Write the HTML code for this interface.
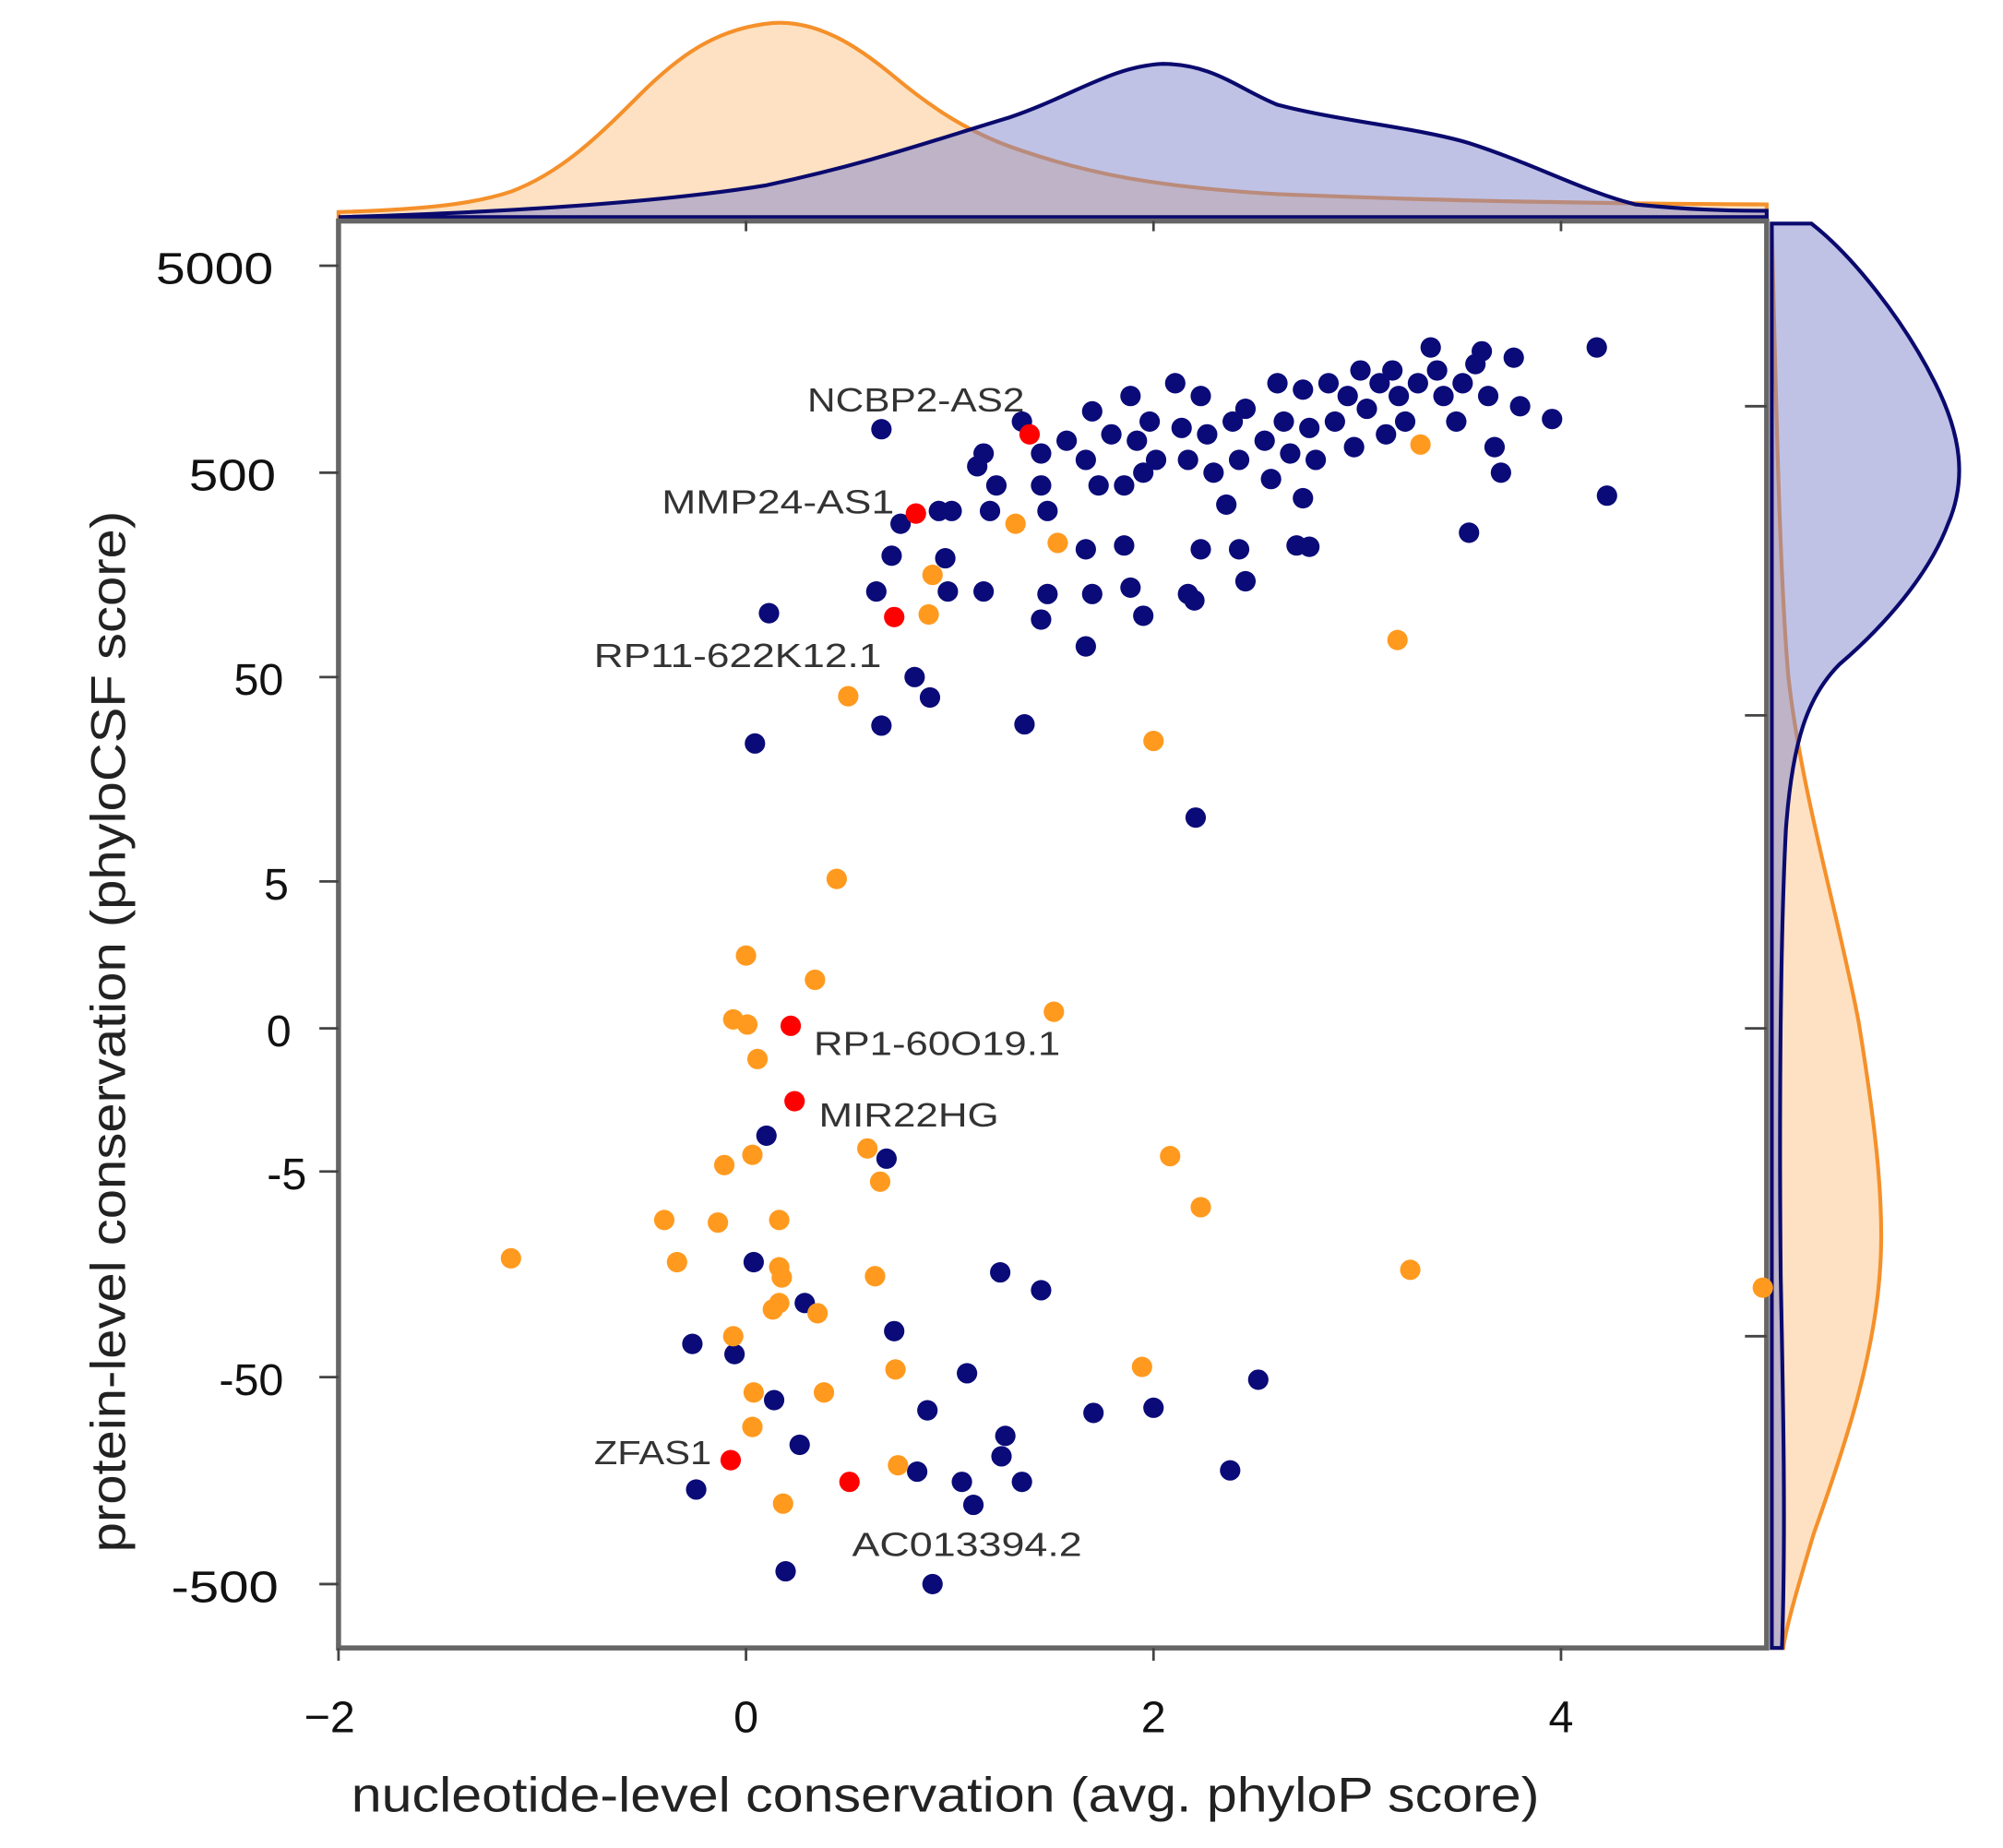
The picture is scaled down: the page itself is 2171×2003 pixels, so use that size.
<!DOCTYPE html>
<html><head><meta charset="utf-8"><style>
html,body{margin:0;padding:0;background:#fff;}
svg{display:block;}
text{font-family:"Liberation Sans",sans-serif;}
.tk{font-size:35px;fill:#111;}
.lb{font-size:26px;fill:#333;}
</style></head><body>
<svg width="2171" height="2003" viewBox="0 0 1568 1446.6" preserveAspectRatio="none" xmlns="http://www.w3.org/2000/svg">
<rect width="1568" height="1447" fill="#fff"/>
<!-- top marginal -->
<path d="M265,166 C330,164 370,160 400,150 C440,135 470,105 500,75 C530,45 560,22 605,18 C640,16 670,35 700,60 C730,85 760,105 800,118 C850,135 900,146 1000,152 C1100,156 1200,159 1383,160 L1383,170 L265,170Z" fill="#fcc890" fill-opacity="0.55" stroke="#f5902a" stroke-width="3"/>
<path d="M265,170 C400,166 520,158 600,145 C680,128 730,110 790,92 C840,75 870,52 910,50 C950,50 970,70 1000,82 C1050,95 1110,100 1150,112 C1200,128 1240,150 1280,160 C1320,164 1350,165 1383,165 L1383,170Z" fill="#7f86cc" fill-opacity="0.5" stroke="#0a0a6e" stroke-width="3"/>
<!-- right marginal -->
<path d="M1387,175 C1390,300 1393,450 1400,530 C1410,620 1440,720 1455,800 C1468,880 1475,940 1472,990 C1468,1060 1445,1130 1420,1200 C1405,1250 1398,1275 1396,1290 L1387,1290Z" fill="#fcc890" fill-opacity="0.55" stroke="#f5902a" stroke-width="3"/>
<path d="M1387,175 L1418,175 C1450,200 1490,250 1515,300 C1535,340 1540,375 1525,410 C1510,450 1475,490 1440,520 C1415,545 1403,580 1398,650 C1393,750 1393,900 1394,1000 C1396,1100 1398,1200 1395,1290 L1387,1290Z" fill="#7f86cc" fill-opacity="0.5" stroke="#0a0a6e" stroke-width="3"/>
<!-- axes box -->
<rect x="265" y="173" width="1118" height="1117" fill="#fff" stroke="#666" stroke-width="4"/>
<g stroke="#444" stroke-width="2">
<line x1="584" y1="173" x2="584" y2="181"/><line x1="903" y1="173" x2="903" y2="181"/><line x1="1222" y1="173" x2="1222" y2="181"/>
<line x1="265" y1="1290" x2="265" y2="1300"/><line x1="584" y1="1290" x2="584" y2="1300"/><line x1="903" y1="1290" x2="903" y2="1300"/><line x1="1222" y1="1290" x2="1222" y2="1300"/>
<line x1="250" y1="208" x2="265" y2="208"/><line x1="250" y1="370" x2="265" y2="370"/><line x1="250" y1="530" x2="265" y2="530"/><line x1="250" y1="690" x2="265" y2="690"/><line x1="250" y1="805" x2="265" y2="805"/><line x1="250" y1="917" x2="265" y2="917"/><line x1="250" y1="1078" x2="265" y2="1078"/><line x1="250" y1="1240" x2="265" y2="1240"/>
<line x1="1366" y1="318" x2="1383" y2="318"/><line x1="1366" y1="560" x2="1383" y2="560"/><line x1="1366" y1="805" x2="1383" y2="805"/><line x1="1366" y1="1046" x2="1383" y2="1046"/>
</g>
<g class="tk" text-anchor="end">
<text x="214" y="222" textLength="92" lengthAdjust="spacingAndGlyphs">5000</text><text x="216" y="384" textLength="68" lengthAdjust="spacingAndGlyphs">500</text><text x="222" y="544">50</text><text x="226" y="704">5</text><text x="228" y="819">0</text><text x="240" y="931">-5</text><text x="222" y="1092">-50</text><text x="218" y="1254" textLength="84" lengthAdjust="spacingAndGlyphs">-500</text>
</g>
<g class="tk" text-anchor="middle">
<text x="258" y="1356">−2</text><text x="584" y="1356">0</text><text x="903" y="1356">2</text><text x="1222" y="1356">4</text>
</g>
<text x="275" y="1418" textLength="930" lengthAdjust="spacingAndGlyphs" style="font-size:38px;fill:#222">nucleotide-level conservation (avg. phyloP score)</text>
<text transform="translate(98,1215) rotate(-90)" textLength="815" lengthAdjust="spacingAndGlyphs" style="font-size:38px;fill:#222">protein-level conservation (phyloCSF score)</text>
<g fill="#0a0a78">
<circle cx="690" cy="336" r="8"/><circle cx="800" cy="330" r="8"/><circle cx="770" cy="355" r="8"/><circle cx="765" cy="365" r="8"/><circle cx="780" cy="380" r="8"/><circle cx="775" cy="400" r="8"/><circle cx="815" cy="355" r="8"/><circle cx="835" cy="345" r="8"/><circle cx="855" cy="322" r="8"/><circle cx="850" cy="360" r="8"/><circle cx="860" cy="380" r="8"/><circle cx="870" cy="340" r="8"/><circle cx="885" cy="310" r="8"/><circle cx="890" cy="345" r="8"/><circle cx="880" cy="380" r="8"/><circle cx="895" cy="370" r="8"/><circle cx="900" cy="330" r="8"/><circle cx="905" cy="360" r="8"/><circle cx="920" cy="300" r="8"/><circle cx="925" cy="335" r="8"/><circle cx="930" cy="360" r="8"/><circle cx="940" cy="310" r="8"/><circle cx="945" cy="340" r="8"/><circle cx="950" cy="370" r="8"/><circle cx="960" cy="395" r="8"/><circle cx="965" cy="330" r="8"/><circle cx="970" cy="360" r="8"/><circle cx="975" cy="320" r="8"/><circle cx="990" cy="345" r="8"/><circle cx="995" cy="375" r="8"/><circle cx="1000" cy="300" r="8"/><circle cx="1005" cy="330" r="8"/><circle cx="1010" cy="355" r="8"/><circle cx="1020" cy="305" r="8"/><circle cx="1025" cy="335" r="8"/><circle cx="1030" cy="360" r="8"/><circle cx="1040" cy="300" r="8"/><circle cx="1045" cy="330" r="8"/><circle cx="1055" cy="310" r="8"/><circle cx="1060" cy="350" r="8"/><circle cx="1065" cy="290" r="8"/><circle cx="1070" cy="320" r="8"/><circle cx="1080" cy="300" r="8"/><circle cx="1085" cy="340" r="8"/><circle cx="1090" cy="290" r="8"/><circle cx="1095" cy="310" r="8"/><circle cx="1100" cy="330" r="8"/><circle cx="1110" cy="300" r="8"/><circle cx="1120" cy="272" r="8"/><circle cx="1125" cy="290" r="8"/><circle cx="1130" cy="310" r="8"/><circle cx="1140" cy="330" r="8"/><circle cx="1145" cy="300" r="8"/><circle cx="1155" cy="285" r="8"/><circle cx="1160" cy="275" r="8"/><circle cx="1165" cy="310" r="8"/><circle cx="1170" cy="350" r="8"/><circle cx="1175" cy="370" r="8"/><circle cx="1185" cy="280" r="8"/><circle cx="1190" cy="318" r="8"/><circle cx="1215" cy="328" r="8"/><circle cx="1250" cy="272" r="8"/><circle cx="1258" cy="388" r="8"/><circle cx="1150" cy="417" r="8"/><circle cx="1020" cy="390" r="8"/><circle cx="1015" cy="427" r="8"/><circle cx="1025" cy="428" r="8"/><circle cx="970" cy="430" r="8"/><circle cx="975" cy="455" r="8"/><circle cx="940" cy="430" r="8"/><circle cx="930" cy="465" r="8"/><circle cx="935" cy="470" r="8"/><circle cx="880" cy="427" r="8"/><circle cx="885" cy="460" r="8"/><circle cx="895" cy="482" r="8"/><circle cx="850" cy="430" r="8"/><circle cx="855" cy="465" r="8"/><circle cx="850" cy="506" r="8"/><circle cx="815" cy="485" r="8"/><circle cx="820" cy="465" r="8"/><circle cx="820" cy="400" r="8"/><circle cx="815" cy="380" r="8"/><circle cx="745" cy="400" r="8"/><circle cx="735" cy="400" r="8"/><circle cx="705" cy="410" r="8"/><circle cx="698" cy="435" r="8"/><circle cx="740" cy="437" r="8"/><circle cx="686" cy="463" r="8"/><circle cx="742" cy="463" r="8"/><circle cx="770" cy="463" r="8"/><circle cx="602" cy="480" r="8"/><circle cx="716" cy="530" r="8"/><circle cx="728" cy="546" r="8"/><circle cx="690" cy="568" r="8"/><circle cx="802" cy="567" r="8"/><circle cx="591" cy="582" r="8"/><circle cx="936" cy="640" r="8"/>
<circle cx="600" cy="889" r="8"/><circle cx="694" cy="907" r="8"/><circle cx="590" cy="988" r="8"/><circle cx="630" cy="1020" r="8"/><circle cx="542" cy="1052" r="8"/><circle cx="575" cy="1060" r="8"/><circle cx="700" cy="1042" r="8"/><circle cx="606" cy="1096" r="8"/><circle cx="757" cy="1075" r="8"/><circle cx="783" cy="996" r="8"/><circle cx="815" cy="1010" r="8"/><circle cx="985" cy="1080" r="8"/><circle cx="856" cy="1106" r="8"/><circle cx="903" cy="1102" r="8"/><circle cx="726" cy="1104" r="8"/><circle cx="626" cy="1131" r="8"/><circle cx="787" cy="1124" r="8"/><circle cx="784" cy="1140" r="8"/><circle cx="718" cy="1152" r="8"/><circle cx="753" cy="1160" r="8"/><circle cx="762" cy="1178" r="8"/><circle cx="800" cy="1160" r="8"/><circle cx="963" cy="1151" r="8"/><circle cx="545" cy="1166" r="8"/><circle cx="615" cy="1230" r="8"/><circle cx="730" cy="1240" r="8"/>
</g>
<g fill="#ff9a1f">
<circle cx="1112" cy="348" r="8"/><circle cx="795" cy="410" r="8"/><circle cx="828" cy="425" r="8"/><circle cx="730" cy="450" r="8"/><circle cx="727" cy="481" r="8"/><circle cx="1094" cy="501" r="8"/><circle cx="664" cy="545" r="8"/><circle cx="903" cy="580" r="8"/><circle cx="655" cy="688" r="8"/><circle cx="584" cy="748" r="8"/><circle cx="638" cy="767" r="8"/><circle cx="825" cy="792" r="8"/><circle cx="574" cy="798" r="8"/><circle cx="585" cy="802" r="8"/><circle cx="593" cy="829" r="8"/><circle cx="679" cy="899" r="8"/><circle cx="689" cy="925" r="8"/><circle cx="567" cy="912" r="8"/><circle cx="589" cy="904" r="8"/><circle cx="916" cy="905" r="8"/><circle cx="940" cy="945" r="8"/><circle cx="520" cy="955" r="8"/><circle cx="562" cy="957" r="8"/><circle cx="610" cy="955" r="8"/><circle cx="400" cy="985" r="8"/><circle cx="530" cy="988" r="8"/><circle cx="610" cy="992" r="8"/><circle cx="612" cy="1000" r="8"/><circle cx="685" cy="999" r="8"/><circle cx="1104" cy="994" r="8"/><circle cx="610" cy="1020" r="8"/><circle cx="605" cy="1025" r="8"/><circle cx="640" cy="1028" r="8"/><circle cx="574" cy="1046" r="8"/><circle cx="701" cy="1072" r="8"/><circle cx="894" cy="1070" r="8"/><circle cx="590" cy="1090" r="8"/><circle cx="645" cy="1090" r="8"/><circle cx="589" cy="1117" r="8"/><circle cx="703" cy="1147" r="8"/><circle cx="613" cy="1177" r="8"/><circle cx="1380" cy="1008" r="8"/>
</g>
<g fill="#ff0000">
<circle cx="806" cy="340" r="8"/><circle cx="717" cy="402" r="8"/><circle cx="700" cy="483" r="8"/><circle cx="619" cy="803" r="8"/><circle cx="622" cy="862" r="8"/><circle cx="572" cy="1143" r="8"/><circle cx="665" cy="1160" r="8"/>
</g>
<g class="lb">
<text x="632" y="322" textLength="170" lengthAdjust="spacingAndGlyphs">NCBP2-AS2</text>
<text x="518" y="402" textLength="182" lengthAdjust="spacingAndGlyphs">MMP24-AS1</text>
<text x="465" y="522" textLength="225" lengthAdjust="spacingAndGlyphs">RP11-622K12.1</text>
<text x="637" y="826" textLength="193" lengthAdjust="spacingAndGlyphs">RP1-60O19.1</text>
<text x="641" y="882" textLength="141" lengthAdjust="spacingAndGlyphs">MIR22HG</text>
<text x="465" y="1146" textLength="92" lengthAdjust="spacingAndGlyphs">ZFAS1</text>
<text x="667" y="1218" textLength="180" lengthAdjust="spacingAndGlyphs">AC013394.2</text>
</g>
</svg>
</body></html>
